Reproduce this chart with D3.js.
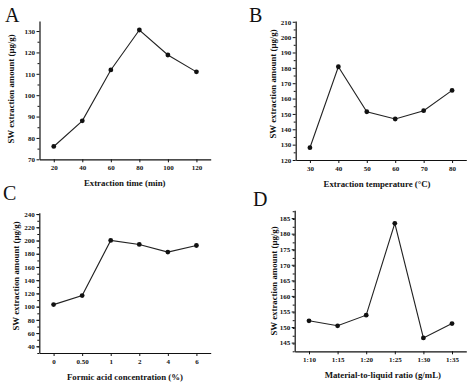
<!DOCTYPE html>
<meta charset="utf-8">
<style>
body { margin: 0; background: #fff; }
svg text { font-family: "Liberation Serif", "Times New Roman", serif; fill: #111; }
.tick text { font-weight: bold; font-size: 7px; }
.title { font-weight: bold; font-size: 8.8px; }
.letter { font-size: 20px; }
.domain, .tick line { stroke: #111; }
</style>
<body>
<script src="https://cdn.jsdelivr.net/npm/d3@7"></script>
<script>
// panel A - extraction time
var timeCats = ["20", "40", "60", "80", "100", "120"];
var timeVals = [76, 88, 111.8, 130.5, 118.8, 110.9];
// panel B - temperature
var tempCats = ["30", "40", "50", "60", "70", "80"];
var tempVals = [128, 180.7, 151.4, 146.7, 152.1, 165.3];
// panel C - formic acid
var acidCats = ["0", "0.50", "1", "2", "4", "6"];
var acidVals = [103, 116.7, 200, 194, 182.4, 192.4];
// panel D - material to liquid ratio
var ratioCats = ["1:10", "1:15", "1:20", "1:25", "1:30", "1:35"];
var ratioVals = [152, 150.4, 153.8, 183.3, 146.5, 151.1];

var yTitle = "SW extraction amount (\u03bcg/g)";

var svg = d3.select("body").append("svg")
    .attr("width", 474)
    .attr("height", 384);

function draw_panel(opt) {
  var g = svg.append("g");

  var x = d3.scalePoint()
      .domain(opt.cats)
      .range([opt.left, opt.right])
      .padding(0.5);

  var y = d3.scaleLinear()
      .domain(opt.ydom)
      .range([opt.bottom, opt.top]);

  // minor ticks on y
  var minor = d3.range(opt.ydom[0], opt.ydom[1] + 0.001, opt.step / 2)
      .filter(function(v){ return Math.abs((v - opt.ticks[0]) / opt.step % 1) > 0.01; });
  g.append("g")
      .attr("transform", "translate(" + opt.left + ",0)")
      .call(d3.axisLeft(y).tickValues(minor).tickSize(2).tickFormat(""))
      .select(".domain").remove();

  g.append("g")
      .attr("transform", "translate(" + opt.left + ",0)")
      .call(d3.axisLeft(y).tickValues(opt.ticks).tickSize(3).tickPadding(1.5).tickSizeOuter(0));

  g.append("g")
      .attr("transform", "translate(0," + opt.bottom + ")")
      .call(d3.axisBottom(x).tickSize(3).tickPadding(3).tickSizeOuter(0));

  g.selectAll(".domain").attr("stroke-width", 1.2);

  var line = d3.line()
      .x(function(d, i){ return x(opt.cats[i]); })
      .y(function(d){ return y(d); });

  g.append("path")
      .datum(opt.vals)
      .attr("fill", "none")
      .attr("stroke", "#222")
      .attr("stroke-width", 1.1)
      .attr("d", line);

  g.selectAll(".pt")
      .data(opt.vals)
    .enter().append("circle")
      .attr("class", "pt")
      .attr("cx", function(d, i){ return x(opt.cats[i]); })
      .attr("cy", function(d){ return y(d); })
      .attr("r", 2.4)
      .attr("fill", "#111");

  g.append("text")
      .attr("class", "title")
      .attr("text-anchor", "middle")
      .attr("x", opt.xtx)
      .attr("y", opt.bottom + 26.5)
      .text(opt.xlabel);

  g.append("text")
      .attr("class", "title")
      .attr("text-anchor", "middle")
      .attr("transform", "translate(" + opt.ytx + "," + opt.yty + ") rotate(-90)")
      .text(yTitle);

  g.append("text")
      .attr("class", "letter")
      .attr("x", opt.lx)
      .attr("y", opt.ly)
      .text(opt.letter);
}

draw_panel({
  cats: timeCats, vals: timeVals, letter: "A", lx: 5, ly: 22,
  left: 39.5, right: 210.7, top: 21, bottom: 159.3,
  ydom: [70, 134.7], ticks: d3.range(70, 131, 10), step: 10,
  xlabel: "Extraction time (min)", xtx: 124.7, ytx: 13.5, yty: 89
});

draw_panel({
  cats: tempCats, vals: tempVals, letter: "B", lx: 249, ly: 22,
  left: 295.7, right: 466.3, top: 21, bottom: 160,
  ydom: [120, 210.5], ticks: d3.range(120, 211, 10), step: 10,
  xlabel: "Extraction temperature (\u00b0C)", xtx: 377, ytx: 276, yty: 84
});

draw_panel({
  cats: acidCats, vals: acidVals, letter: "C", lx: 3, ly: 200,
  left: 39.3, right: 210.7, top: 212.7, bottom: 353,
  ydom: [29.8, 242], ticks: d3.range(40, 241, 20), step: 20,
  xlabel: "Formic acid concentration (%)", xtx: 125, ytx: 18.5, yty: 276
});

draw_panel({
  cats: ratioCats, vals: ratioVals, letter: "D", lx: 253, ly: 206,
  left: 294.7, right: 466.3, top: 210.3, bottom: 351.3,
  ydom: [142.2, 187.5], ticks: d3.range(145, 186, 5), step: 5,
  xlabel: "Material-to-liquid ratio (g/mL)", xtx: 382.8, ytx: 276.5, yty: 281
});
</script>
</body>
